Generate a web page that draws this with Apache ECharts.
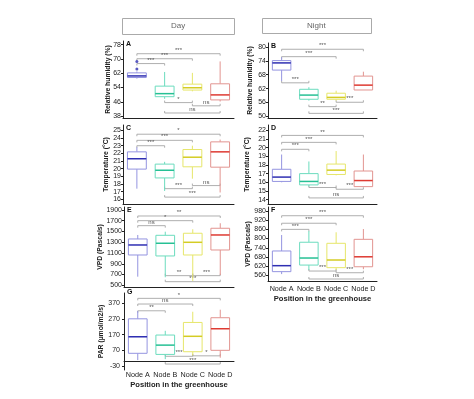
<!DOCTYPE html>
<html>
<head>
<meta charset="utf-8">
<script src="https://cdn.jsdelivr.net/npm/echarts@6/dist/echarts.min.js"></script>
<style>
  html, body { margin: 0; padding: 0; background: #fff; }
  #chart { width: 474px; height: 399px; }
</style>
</head>
<body>
<div id="chart"></div>
<script>
const nodes = ['Node A', 'Node B', 'Node C', 'Node D']

// boxes: [min, Q1, median, Q3, max] for each node
const rhDay = [[59.0, 59.6, 60.5, 62.2, 63.0], [47.7, 48.9, 50.6, 54.8, 62.7], [51.9, 52.6, 53.9, 55.9, 62.2], [46.2, 47.1, 49.9, 56.1, 68.6]]
const rhDayOutliers = [[0, 68.6], [0, 64.3]]
const rhNight = [[65.3, 70.0, 73.1, 74.1, 75.5], [56.8, 57.4, 59.2, 61.7, 62.6], [56.8, 57.4, 58.2, 60.0, 61.1], [61.4, 61.4, 63.5, 67.4, 69.3]]
const tempDay = [[17.4, 19.95, 21.3, 22.2, 22.8], [17.1, 18.8, 19.8, 20.6, 20.9], [18.7, 20.25, 21.5, 22.5, 23.0], [16.9, 20.2, 22.2, 23.5, 23.8]]
const tempNight = [[16.0, 16.1, 16.6, 17.5, 19.2], [15.5, 15.7, 16.1, 17.0, 18.4], [16.8, 16.9, 17.4, 18.1, 19.6], [15.5, 15.5, 16.2, 17.3, 19.2]]
const vpdDay = [[660, 1063, 1249, 1361, 1435], [649, 1045, 1281, 1429, 1496], [580, 1063, 1299, 1467, 1541], [691, 1156, 1435, 1560, 1653]]
const vpdNight = [[568, 584, 623, 719, 823], [595, 627, 673, 776, 849], [595, 610, 660, 769, 841], [600, 616, 681, 795, 862]]
const parDay = [[8, 51, 156, 270, 319], [14, 44, 103, 167, 194], [38, 61, 159, 247, 315], [23, 70, 207, 277, 328]]

// significance brackets: [from, to, y, label, ends ('d' down / 'u' up)]
const rhDaySig = [[0, 3, 72.9, '***', 'd'], [0, 2, 70.1, '***', 'd'], [0, 1, 67.4, '***', 'd'], [1, 2, 45.6, '*', 'u'], [2, 3, 43.8, 'ns', 'u'], [1, 3, 39.8, 'ns', 'u']]
const rhNightSig = [[0, 3, 79.0, '***', 'd'], [0, 2, 75.8, '***', 'd'], [0, 1, 64.5, '***', 'u'], [2, 3, 56.1, '***', 'u'], [1, 2, 54.2, '**', 'u'], [1, 3, 51.3, '***', 'u']]
const tempDaySig = [[0, 3, 24.5, '*', 'd'], [0, 2, 23.7, '***', 'd'], [0, 1, 23.0, '***', 'd'], [2, 3, 17.8, 'ns', 'u'], [1, 2, 17.4, '***', 'u'], [1, 3, 16.3, '***', 'u']]
const tempNightSig = [[0, 3, 21.4, '**', 'd'], [0, 2, 20.6, '***', 'd'], [0, 1, 19.8, '***', 'd'], [1, 2, 15.4, '***', 'u'], [2, 3, 15.2, '***', 'u'], [1, 3, 14.2, 'ns', 'u']]
const vpdDaySig = [[0, 3, 1788, '**', 'd'], [0, 2, 1701, '*', 'd'], [0, 1, 1608, 'ns', 'd'], [1, 2, 679, '**', 'u'], [2, 3, 679, '***', 'u'], [1, 3, 567, '***', 'u']]
const vpdNightSig = [[0, 3, 949, '***', 'd'], [0, 2, 900, '***', 'd'], [0, 1, 860, '***', 'd'], [1, 2, 588, '***', 'u'], [2, 3, 577, '***', 'u'], [1, 3, 536, 'ns', 'u']]
const parDaySig = [[0, 3, 400, '*', 'd'], [0, 2, 364, 'ns', 'd'], [0, 1, 321, '**', 'd'], [1, 2, 32, '***', 'u'], [2, 3, 35, '*', 'u'], [1, 3, -17, '***', 'u']]

// tick labels
const rhDayTicks = [38, 46, 54, 62, 70, 78]
const rhNightTicks = [50, 56, 62, 68, 74, 80]
const tempDayTicks = [16, 17, 18, 19, 20, 21, 22, 23, 24, 25]
const tempNightTicks = [14, 15, 16, 17, 18, 19, 20, 21, 22]
const vpdDayTicks = [500, 700, 900, 1100, 1300, 1500, 1700, 1900]
const vpdNightTicks = [560, 620, 680, 740, 800, 860, 920, 980]
const parDayTicks = [-30, 70, 170, 270, 370]

const font = 'Arial, "Liberation Sans", sans-serif'
const edgeColors = ['#9494e0', '#6cdcbe', '#e6e66a', '#e29490']
const medianColors = ['#2f2fb2', '#26c094', '#d4cc24', '#de3a32']

const panels = [
  { letter: 'A', boxes: rhDay, sig: rhDaySig, out: rhDayOutliers, ticks: rhDayTicks, min: 37, max: 80, name: 'Relative humidity (%)', nameGap: 11, grid: { left: 123, top: 41, width: 111, height: 77 } },
  { letter: 'B', boxes: rhNight, sig: rhNightSig, ticks: rhNightTicks, min: 49.3, max: 81.7, name: 'Relative humidity (%)', nameGap: 14, grid: { left: 268, top: 43, width: 109, height: 75 } },
  { letter: 'C', boxes: tempDay, sig: tempDaySig, ticks: tempDayTicks, min: 15.4, max: 25.7, name: 'Temperature (°C)', nameGap: 13, grid: { left: 123, top: 125, width: 111, height: 79 } },
  { letter: 'D', boxes: tempNight, sig: tempNightSig, ticks: tempNightTicks, min: 13.5, max: 22.6, name: 'Temperature (°C)', nameGap: 17, grid: { left: 268, top: 125, width: 109, height: 79 } },
  { letter: 'E', boxes: vpdDay, sig: vpdDaySig, ticks: vpdDayTicks, min: 468, max: 1955, name: 'VPD (Pascals)', nameGap: 20, grid: { left: 124, top: 207, width: 110, height: 80 } },
  { letter: 'F', boxes: vpdNight, sig: vpdNightSig, ticks: vpdNightTicks, min: 523, max: 1006, name: 'VPD (Pascals)', nameGap: 16, grid: { left: 268, top: 207, width: 109, height: 74 }, xLabels: true, labelMargin: 5, xNameGap: 14 },
  { letter: 'G', boxes: parDay, sig: parDaySig, ticks: parDayTicks, min: -55, max: 434, name: 'PAR (µmol/m2/s)', nameGap: 19, yLabelMargin: 4, grid: { left: 124, top: 293, width: 110, height: 77 }, xLabels: true, labelMargin: 2, xNameGap: 11 }
]

const renderBox = (params, api) => {
  const k = api.value(0)
  const p = [1, 2, 3, 4, 5].map(i => api.coord([k, api.value(i)]))
  const w = api.size([1, 0])[0] * 0.68
  const cx = p[0][0]
  const edge = edgeColors[k]
  return {
    type: 'group',
    children: [
      { type: 'line', shape: { x1: cx, y1: p[0][1], x2: cx, y2: p[1][1] }, style: { stroke: edge, lineWidth: 1 } },
      { type: 'line', shape: { x1: cx, y1: p[3][1], x2: cx, y2: p[4][1] }, style: { stroke: edge, lineWidth: 1 } },
      { type: 'rect', shape: { x: cx - w / 2, y: p[3][1], width: w, height: p[1][1] - p[3][1] }, style: { fill: '#fff', stroke: edge, lineWidth: 1 } },
      { type: 'line', shape: { x1: cx - w / 2, y1: p[2][1], x2: cx + w / 2, y2: p[2][1] }, style: { stroke: medianColors[k], lineWidth: 1.5 } }
    ]
  }
}

const makeSigRender = sig => (params, api) => {
  const s = sig[params.dataIndex]
  const a = api.coord([api.value(0), api.value(2)])
  const b = api.coord([api.value(1), api.value(2)])
  const t = s[4] === 'd' ? 2 : -2
  return {
    type: 'group',
    children: [
      { type: 'polyline', shape: { points: [[a[0], a[1] + t], [a[0], a[1]], [b[0], b[1]], [b[0], b[1] + t]] }, style: { stroke: '#9a9a9a', lineWidth: 0.8, fill: null } },
      { type: 'text', x: (a[0] + b[0]) / 2, y: a[1] - 0.5, style: { text: s[3], fill: '#555', font: '6px ' + font, textAlign: 'center', textVerticalAlign: 'bottom' } }
    ]
  }
}

const chart = echarts.init(document.getElementById('chart'))

const grids = []
const xAxes = []
const yAxes = []
const series = []
const graphics = []

panels.forEach((p, i) => {
  grids.push(p.grid)
  xAxes.push({
    type: 'category',
    gridIndex: i,
    data: nodes,
    axisLine: { lineStyle: { color: '#222', width: 1 } },
    axisTick: { alignWithLabel: true, length: 2, lineStyle: { color: '#222' } },
    axisLabel: { show: !!p.xLabels, interval: 0, fontSize: 7.2, color: '#222', margin: p.labelMargin || 2, fontFamily: font },
    name: p.xLabels ? 'Position in the greenhouse' : '',
    nameLocation: 'middle',
    nameGap: p.xNameGap || 10,
    nameTextStyle: { fontWeight: 'bold', fontSize: 7.6, color: '#222', fontFamily: font }
  })
  yAxes.push({
    type: 'value',
    gridIndex: i,
    min: p.min,
    max: p.max,
    axisLine: { show: true, lineStyle: { color: '#222', width: 1 } },
    axisTick: { show: true, length: 2, customValues: p.ticks, lineStyle: { color: '#222' } },
    axisLabel: { customValues: p.ticks, formatter: v => String(v), fontSize: 7, color: '#222', margin: p.yLabelMargin || 2, fontFamily: font },
    splitLine: { show: false },
    name: p.name,
    nameLocation: 'middle',
    nameRotate: 90,
    nameGap: p.nameGap,
    nameMoveOverlap: false,
    nameTextStyle: { fontWeight: 'bold', fontSize: 6.8, color: '#222', fontFamily: font }
  })
  series.push({
    type: 'custom',
    xAxisIndex: i,
    yAxisIndex: i,
    renderItem: makeSigRender(p.sig),
    data: p.sig.map(s => [s[0], s[1], s[2]]),
    encode: { x: [0, 1], y: 2 },
    silent: true
  })
  series.push({
    type: 'custom',
    xAxisIndex: i,
    yAxisIndex: i,
    renderItem: renderBox,
    data: p.boxes.map((b, k) => [k].concat(b)),
    encode: { x: 0, y: [1, 2, 3, 4, 5] }
  })
  if (p.out) {
    series.push({
      type: 'scatter',
      xAxisIndex: i,
      yAxisIndex: i,
      data: p.out,
      symbol: 'circle',
      symbolSize: 3,
      itemStyle: { color: '#2f2fb2' },
      z: 5
    })
  }
  graphics.push({
    type: 'text',
    left: p.grid.left + 3,
    top: p.grid.top + (p.letter === 'G' ? -4 : 0),
    style: { text: p.letter, font: 'bold 7px ' + font, fill: '#111' }
  })
})

graphics.push(
  { type: 'rect', left: 122, top: 18, shape: { width: 112, height: 16 }, style: { fill: '#fff', stroke: '#aaa', lineWidth: 1 } },
  { type: 'text', left: 171, top: 22, style: { text: 'Day', font: '8px ' + font, fill: '#666' } },
  { type: 'rect', left: 262, top: 18, shape: { width: 109, height: 15 }, style: { fill: '#fff', stroke: '#aaa', lineWidth: 1 } },
  { type: 'text', left: 307, top: 21.5, style: { text: 'Night', font: '8px ' + font, fill: '#666' } }
)

chart.setOption({
  animation: false,
  grid: grids,
  xAxis: xAxes,
  yAxis: yAxes,
  series: series,
  graphic: graphics
})

window.addEventListener('resize', () => chart.resize())
</script>
</body>
</html>
